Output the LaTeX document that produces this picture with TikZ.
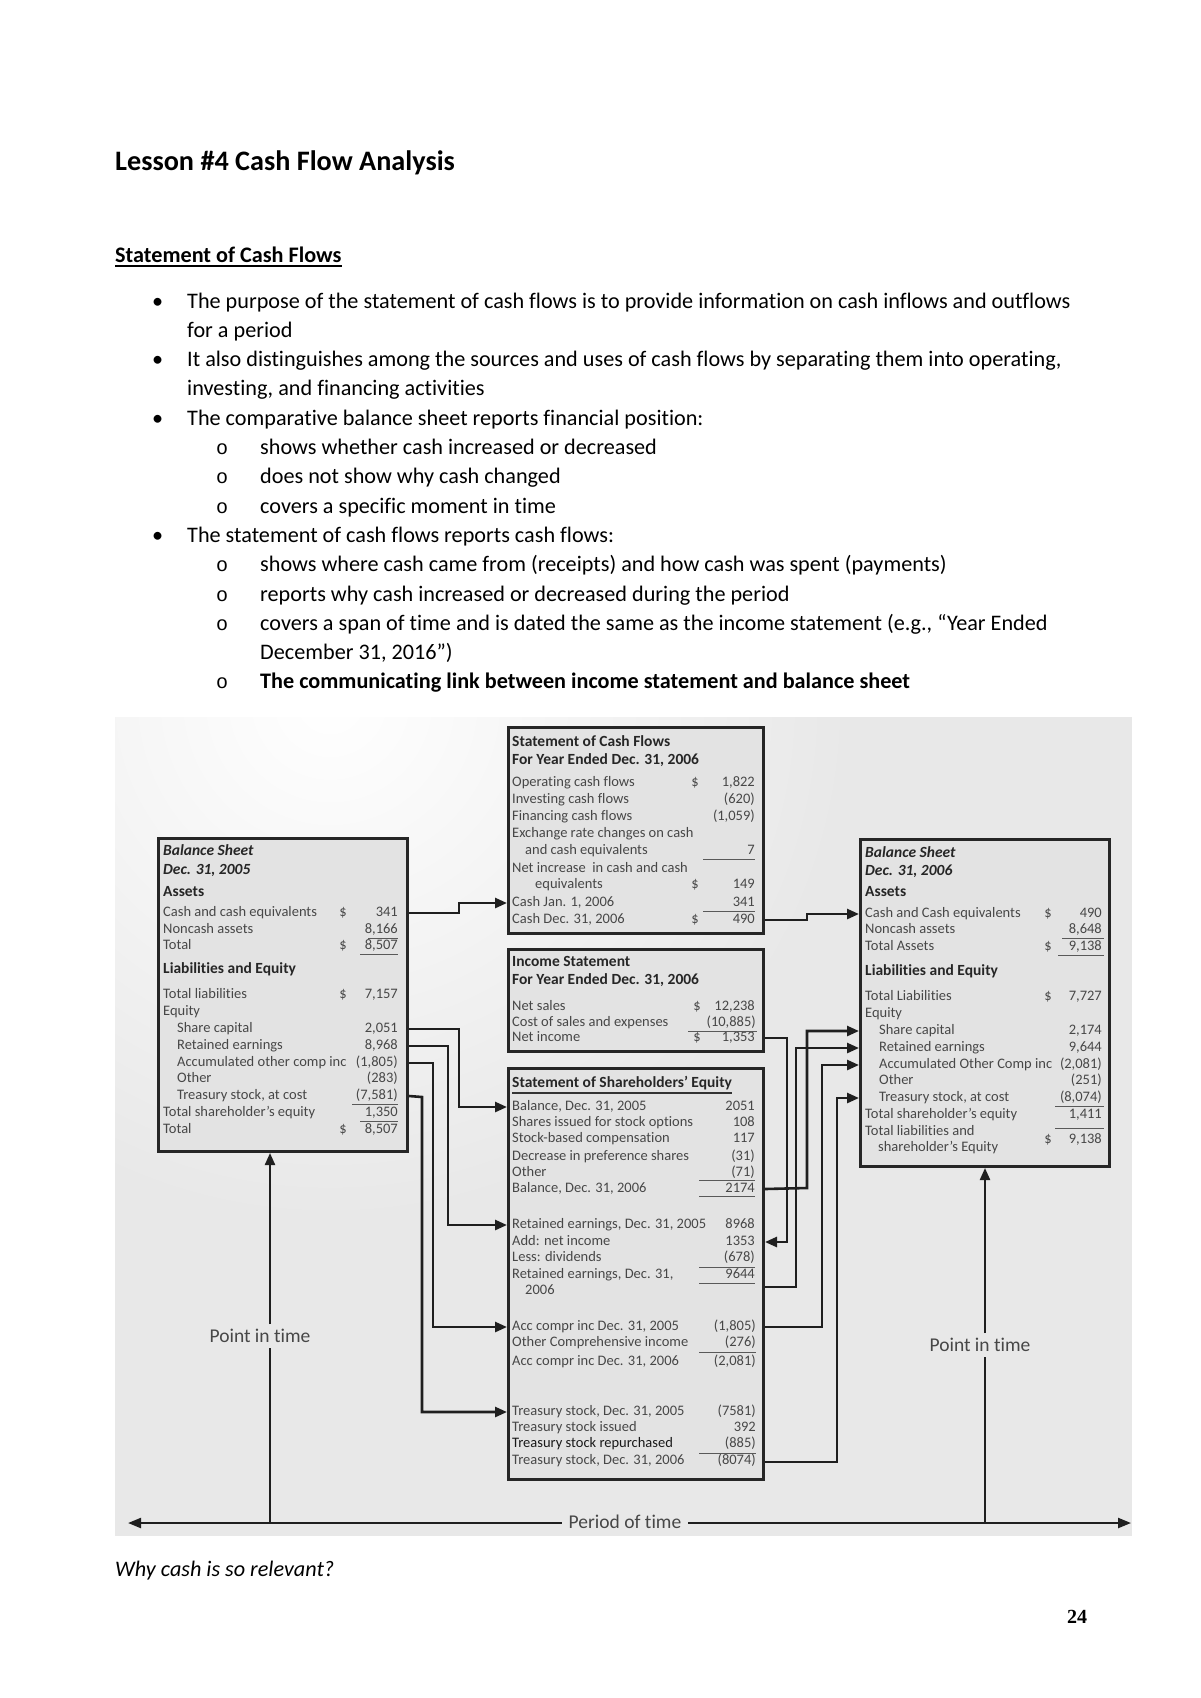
\documentclass[tikz,border=0pt]{standalone}
\usepackage{fontspec}
\setmainfont{Carlito}[Ligatures=NoCommon]
\newfontfamily\monof{Liberation Mono}
\newfontfamily\seriff{Liberation Serif}
\usetikzlibrary{arrows.meta}
\newcommand\bodyf{\fontsize{22.2}{29.3}\selectfont}
\newcommand\boxf{\fontsize{14.5}{16}\selectfont}
\newcommand\boxhf{\fontsize{15.5}{17}\selectfont\bfseries}
\begin{document}
\begin{tikzpicture}[x=1pt,y=-1pt,
  body/.style={anchor=base west,inner sep=0,font=\bodyf},
  bul/.style={anchor=base west,inner sep=0,font=\bodyf},
  subb/.style={anchor=base west,inner sep=0,font={\fontsize{20}{22}\selectfont\monof}},
  box/.style={draw=black!85,line width=3pt,fill=black!11,anchor=north west,inner sep=0},
  t/.style={anchor=west,inner sep=0,font=\boxf,text=black!72,text height=10pt,text depth=3pt},
  n/.style={t,anchor=east},
  d/.style={t,anchor=center},
  h/.style={t,font=\boxhf,text=black!85},
  hi/.style={t,font={\boxhf\itshape},text=black!85},
  rule/.style={line width=0.9pt,black!65},
  conn/.style={line width=2.6pt,black!88},
  arr/.style={conn,-{Triangle[length=12pt,width=10pt]}},
  tl/.style={inner xsep=7pt,inner ysep=5pt,font={\fontsize{19.5}{20}\selectfont},text=black!72}
]
\useasboundingbox (0,0) rectangle (1200,1698);
\fill[white] (0,0) rectangle (1200,1698);

% ---------------- page text ----------------
\node[body,font={\fontsize{28.2}{30}\selectfont\bfseries}] (title) at (115,170) {Lesson \#4 Cash Flow Analysis};
\node[body,font={\bodyf\bfseries}] (sub) at (115,262) {Statement of Cash Flows};
\draw[line width=1.3pt] (sub.base west) ++(0,4) -- ([yshift=-4pt]sub.base east);

\node[bul] (b1) at (152,308) {•};
\node[body] (p1) at (187,308) {The purpose of the statement of cash flows is to provide information on cash inflows and outflows};
\node[body] (p2) at (187,337.3) {for a period};
\node[bul] (b2) at (152,366.6) {•};
\node[body] (p3) at (187,366.6) {It also distinguishes among the sources and uses of cash flows by separating them into operating,};
\node[body] (p4) at (187,395.9) {investing, and financing activities};
\node[bul] (b3) at (152,425.2) {•};
\node[body] (p5) at (187,425.2) {The comparative balance sheet reports financial position:};
\node[subb] (s1) at (216,454.5) {o};
\node[body] (p6) at (260,454.5) {shows whether cash increased or decreased};
\node[subb] (s2) at (216,483.8) {o};
\node[body] (p7) at (260,483.8) {does not show why cash changed};
\node[subb] (s3) at (216,513.1) {o};
\node[body] (p8) at (260,513.1) {covers a specific moment in time};
\node[bul] (b4) at (152,542.4) {•};
\node[body] (p9) at (187,542.4) {The statement of cash flows reports cash flows:};
\node[subb] (s4) at (216,571.7) {o};
\node[body] (p10) at (260,571.7) {shows where cash came from (receipts) and how cash was spent (payments)};
\node[subb] (s5) at (216,601) {o};
\node[body] (p11) at (260,601) {reports why cash increased or decreased during the period};
\node[subb] (s6) at (216,630.3) {o};
\node[body] (p12) at (260,630.3) {covers a span of time and is dated the same as the income statement (e.g., “Year Ended};
\node[body] (p13) at (260,659.6) {December 31, 2016”)};
\node[subb] (s7) at (216,688.9) {o};
\node[body,font={\bodyf\bfseries}] (p14) at (260,688.9) {The communicating link between income statement and balance sheet};

\node[body,font={\bodyf\itshape}] (why) at (115,1576) {Why cash is so relevant?};
\node[body,font={\fontsize{20}{22}\selectfont\seriff\bfseries}] (pg) at (1067,1623) {24};

% ---------------- figure background ----------------
\fill[black!9] (115,717) rectangle (1132,1536);
\begin{scope}
\clip (115,717) rectangle (1132,1536);
\shade[inner color=white,outer color=black!9] (330,700) circle (520);
\end{scope}

% ---------------- boxes ----------------
\node[box,minimum width=249pt,minimum height=313pt] (lbs) at (157,837) {};
\node[box,minimum width=255pt,minimum height=206pt] (cfs) at (507,726) {};
\node[box,minimum width=255pt,minimum height=102pt] (isb) at (507,948) {};
\node[box,minimum width=255pt,minimum height=411pt] (seq) at (507,1067) {};
\node[box,minimum width=249pt,minimum height=327pt] (rbs) at (859,838) {};

% left balance sheet
\node[hi] (l1) at (163,852) {Balance Sheet};
\node[hi] (l2) at (163,871) {Dec. 31, 2005};
\node[h] (l3) at (163,893) {Assets};
\node[t] (l4) at (163,913) {Cash and cash equivalents}; \node[d] (l4d) at (343,913) {\$}; \node[n] (l4n) at (398,913) {341};
\node[t] (l5) at (163,930) {Noncash assets}; \node[n] (l5n) at (398,930) {8,166};
\node[t] (l6) at (163,946) {Total}; \node[d] (l6d) at (343,946) {\$}; \node[n] (l6n) at (398,946) {8,507};
\node[h] (l7) at (163,970) {Liabilities and Equity};
\node[t] (l8) at (163,995) {Total liabilities}; \node[d] (l8d) at (343,995) {\$}; \node[n] (l8n) at (398,995) {7,157};
\node[t] (l9) at (163,1012) {Equity};
\node[t] (l10) at (177,1029) {Share capital}; \node[n] (l10n) at (398,1029) {2,051};
\node[t] (l11) at (177,1046) {Retained earnings}; \node[n] (l11n) at (398,1046) {8,968};
\node[t] (l12) at (177,1063) {Accumulated other comp inc}; \node[n] (l12n) at (398,1063) {(1,805)};
\node[t] (l13) at (177,1079) {Other}; \node[n] (l13n) at (398,1079) {(283)};
\node[t] (l14) at (177,1096) {Treasury stock, at cost}; \node[n] (l14n) at (398,1096) {(7,581)};
\node[t] (l15) at (163,1113) {Total shareholder's equity}; \node[n] (l15n) at (398,1113) {1,350};
\node[t] (l16) at (163,1130) {Total}; \node[d] (l16d) at (343,1130) {\$}; \node[n] (l16n) at (398,1130) {8,507};
\draw[rule] (368,938.5) -- (398,938.5);
\draw[rule] (360,954.5) -- (398,954.5);
\draw[rule] (352,1104) -- (398,1104);
\draw[rule] (360,1121) -- (398,1121);

% statement of cash flows
\node[h] (c1) at (512,743) {Statement of Cash Flows};
\node[h] (c2) at (512,761) {For Year Ended Dec. 31, 2006};
\node[t] (c3) at (512,783) {Operating cash flows}; \node[d] (c3d) at (695,783) {\$}; \node[n] (c3n) at (755,783) {1,822};
\node[t] (c4) at (512,800) {Investing cash flows}; \node[n] (c4n) at (755,800) {(620)};
\node[t] (c5) at (512,817) {Financing cash flows}; \node[n] (c5n) at (755,817) {(1,059)};
\node[t] (c6) at (512,834) {Exchange rate changes on cash};
\node[t] (c7) at (525,851) {and cash equivalents}; \node[n] (c7n) at (755,851) {7};
\node[t] (c8) at (512,869) {Net increase\ \ in cash and cash};
\node[t] (c9) at (535,885) {equivalents}; \node[d] (c9d) at (695,885) {\$}; \node[n] (c9n) at (755,885) {149};
\node[t] (c10) at (512,903) {Cash Jan. 1, 2006}; \node[n] (c10n) at (755,903) {341};
\node[t] (c11) at (512,920) {Cash Dec. 31, 2006}; \node[d] (c11d) at (695,920) {\$}; \node[n] (c11n) at (755,920) {490};
\draw[rule] (703,859.5) -- (755,859.5);
\draw[rule] (703,911.5) -- (755,911.5);

% income statement
\node[h] (i1) at (512,963) {Income Statement};
\node[h] (i2) at (512,981) {For Year Ended Dec. 31, 2006};
\node[t] (i3) at (512,1007) {Net sales}; \node[d] (i3d) at (697,1007) {\$}; \node[n] (i3n) at (755,1007) {12,238};
\node[t] (i4) at (512,1023) {Cost of sales and expenses}; \node[n] (i4n) at (756,1023) {(10,885)};
\node[t] (i5) at (512,1038) {Net income}; \node[d] (i5d) at (697,1038) {\$}; \node[n] (i5n) at (755,1038) {1,353};
\draw[rule] (688,1031) -- (757,1031);

% statement of shareholders' equity
\node[h] (e1) at (512,1084) {Statement of Shareholders' Equity};
\draw[rule,line width=1.1pt,black!80] (512,1093) -- (e1.east |- 0,1093);
\node[t] (e2) at (512,1107) {Balance, Dec. 31, 2005}; \node[n] (e2n) at (755,1107) {2051};
\node[t] (e3) at (512,1123) {Shares issued for stock options}; \node[n] (e3n) at (755,1123) {108};
\node[t] (e4) at (512,1139) {Stock-based compensation}; \node[n] (e4n) at (755,1139) {117};
\node[t] (e5) at (512,1157) {Decrease in preference shares}; \node[n] (e5n) at (755,1157) {(31)};
\node[t] (e6) at (512,1173) {Other}; \node[n] (e6n) at (755,1173) {(71)};
\node[t] (e7) at (512,1189) {Balance, Dec. 31, 2006}; \node[n] (e7n) at (755,1189) {2174};
\draw[rule] (699,1180.5) -- (755,1180.5);
\draw[rule] (699,1196.5) -- (755,1196.5);
\node[t] (e8) at (512,1225) {Retained earnings, Dec. 31, 2005}; \node[n] (e8n) at (755,1225) {8968};
\node[t] (e9) at (512,1242) {Add: net income}; \node[n] (e9n) at (755,1242) {1353};
\node[t] (e10) at (512,1258) {Less: dividends}; \node[n] (e10n) at (755,1258) {(678)};
\node[t] (e11) at (512,1275) {Retained earnings, Dec. 31,}; \node[n] (e11n) at (755,1275) {9644};
\node[t] (e12) at (525,1291) {2006};
\draw[rule] (699,1267.5) -- (755,1267.5);
\draw[rule] (699,1283) -- (755,1283);
\node[t] (e13) at (512,1327) {Acc compr inc Dec. 31, 2005}; \node[n] (e13n) at (756,1327) {(1,805)};
\node[t] (e14) at (512,1343) {Other Comprehensive income}; \node[n] (e14n) at (756,1343) {(276)};
\node[t] (e15) at (512,1362) {Acc compr inc Dec. 31, 2006}; \node[n] (e15n) at (756,1362) {(2,081)};
\draw[rule] (699,1352) -- (756,1352);
\node[t] (e16) at (512,1412) {Treasury stock, Dec. 31, 2005}; \node[n] (e16n) at (756,1412) {(7581)};
\node[t] (e17) at (512,1428) {Treasury stock issued}; \node[n] (e17n) at (756,1428) {392};
\node[t,text=black!90] (e18) at (512,1444) {Treasury stock repurchased}; \node[n] (e18n) at (756,1444) {(885)};
\node[t] (e19) at (512,1461) {Treasury stock, Dec. 31, 2006}; \node[n] (e19n) at (756,1461) {(8074)};
\draw[rule] (699,1453) -- (756,1453);

% right balance sheet
\node[hi] (r1) at (865,854) {Balance Sheet};
\node[hi] (r2) at (865,872) {Dec. 31, 2006};
\node[h] (r3) at (865,893) {Assets};
\node[t] (r4) at (865,914) {Cash and Cash equivalents}; \node[d] (r4d) at (1048,914) {\$}; \node[n] (r4n) at (1102,914) {490};
\node[t] (r5) at (865,930) {Noncash assets}; \node[n] (r5n) at (1102,930) {8,648};
\node[t] (r6) at (865,947) {Total Assets}; \node[d] (r6d) at (1048,947) {\$}; \node[n] (r6n) at (1102,947) {9,138};
\draw[rule] (1062,938.5) -- (1104,938.5);
\draw[rule] (1058,955.5) -- (1104,955.5);
\node[h] (r7) at (865,972) {Liabilities and Equity};
\node[t] (r8) at (865,997) {Total Liabilities}; \node[d] (r8d) at (1048,997) {\$}; \node[n] (r8n) at (1102,997) {7,727};
\node[t] (r9) at (865,1014) {Equity};
\node[t] (r10) at (879,1031) {Share capital}; \node[n] (r10n) at (1102,1031) {2,174};
\node[t] (r11) at (879,1048) {Retained earnings}; \node[n] (r11n) at (1102,1048) {9,644};
\node[t] (r12) at (879,1065) {Accumulated Other Comp inc}; \node[n] (r12n) at (1102,1065) {(2,081)};
\node[t] (r13) at (879,1081) {Other}; \node[n] (r13n) at (1102,1081) {(251)};
\node[t] (r14) at (879,1098) {Treasury stock, at cost}; \node[n] (r14n) at (1102,1098) {(8,074)};
\draw[rule] (1055,1106) -- (1104,1106);
\node[t] (r15) at (865,1115) {Total shareholder's equity}; \node[n] (r15n) at (1102,1115) {1,411};
\node[t] (r16) at (865,1132) {Total liabilities and};
\node[t] (r17) at (878,1148) {shareholder's Equity};
\node[d] (r16d) at (1048,1140) {\$}; \node[n] (r16n) at (1102,1140) {9,138};
\draw[rule] (1055,1128) -- (1104,1128);

% ---------------- connectors ----------------
\draw[arr] (lbs.east |- l4) -- (459,913) |- (cfs.west |- c10);
\draw[arr] (cfs.east |- c11) -- (807,920) |- (rbs.west |- r4);
\draw[arr] (lbs.east |- l10) -- (459,1029) |- (seq.west |- e2);
\draw[arr] (lbs.east |- l11) -- (448,1046) |- (seq.west |- e8);
\draw[arr] (lbs.east |- l12) -- (433,1063) |- (seq.west |- e13);
\draw[arr] (lbs.east |- l14) -- (422,1097) |- (seq.west |- e16);
\draw[arr] (isb.east |- i5) -- (787,1038) |- (seq.east |- e9);
\draw[arr] (seq.east |- e7) -- (807,1188) |- (rbs.west |- r10);
\draw[arr] (seq.east |- 0,1287) -- (796,1287) |- (rbs.west |- r11);
\draw[arr] (seq.east |- e13) -- (822,1327) |- (rbs.west |- r12);
\draw[arr] (seq.east |- 0,1462) -- (837,1462) |- (rbs.west |- r14);

% ---------------- time line ----------------
\node[tl] (per) at (625,1522) {Period of time};
\coordinate (tlL) at (128,1523);
\coordinate (tlR) at (1131,1523);
\draw[conn,line width=2.2pt,-{Triangle[length=13pt,width=10pt]}] (per.west |- tlL) -- (tlL);
\draw[conn,line width=2.2pt,-{Triangle[length=13pt,width=10pt]}] (per.east |- tlR) -- (tlR);
\node[tl] (pl) at (260,1336) {Point in time};
\node[tl] (pr) at (980,1345) {Point in time};
\coordinate (vl) at (270,1523);
\coordinate (vr) at (985,1523);
\draw[conn,line width=2.2pt] (vl) -- (vl |- pl.south);
\draw[conn,line width=2.2pt,-{Triangle[length=12pt,width=10pt]}] (vl |- pl.north) -- (vl |- lbs.south);
\draw[conn,line width=2.2pt] (vr) -- (vr |- pr.south);
\draw[conn,line width=2.2pt,-{Triangle[length=12pt,width=10pt]}] (vr |- pr.north) -- (vr |- rbs.south);
\end{tikzpicture}
\end{document}
